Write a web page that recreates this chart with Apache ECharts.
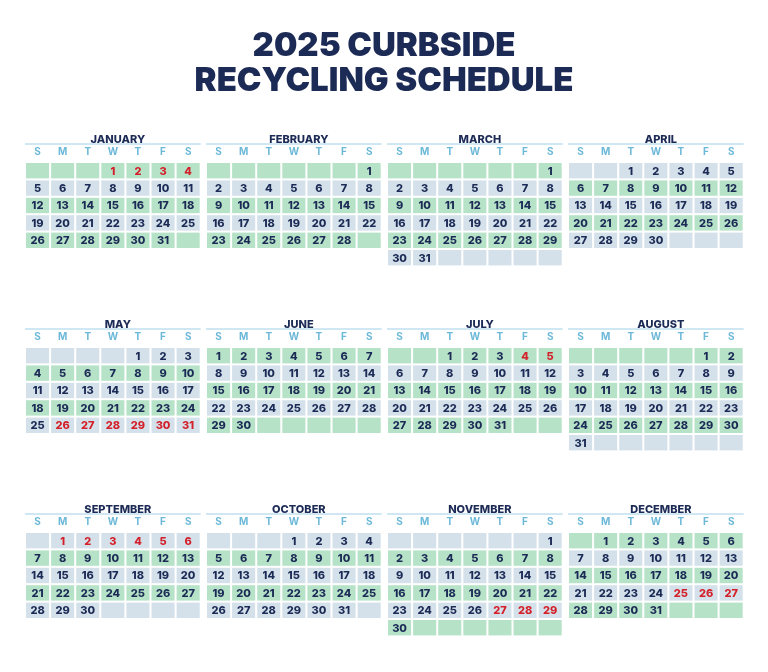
<!DOCTYPE html>
<html><head><meta charset="utf-8">
<script src="https://cdn.jsdelivr.net/npm/echarts@6/dist/echarts.min.js"></script>
<style>html,body{margin:0;padding:0;background:#fff}#c{width:768px;height:672px}</style>
</head><body><div id="c"></div>
<script>
const year = 2025;
const monthNames = ['JANUARY','FEBRUARY','MARCH','APRIL','MAY','JUNE','JULY','AUGUST','SEPTEMBER','OCTOBER','NOVEMBER','DECEMBER'];
const weekdayLabels = ['S','M','T','W','T','F','S'];
const holidayDays = [[1,2,3,4],[],[],[],[26,27,28,29,30,31],[],[4,5],[],[1,2,3,4,5,6],[],[27,28,29],[25,26,27]];
const titleLines = ['2025 CURBSIDE','RECYCLING SCHEDULE'];

const GREEN='#b6e3c7', BLUE='#d4e1ea', DARK='#1c2a56', RED='#d3202a', LBLUE='#6cb8d8';
const cellW=25.1, cellH=17.4;
const base = Date.UTC(2024,11,29);
const chart = echarts.init(document.getElementById('c'));
const grids=[],xAxes=[],yAxes=[],series=[],titles=[],graphics=[];
titles.push({text:titleLines.join('\n'),left:'center',top:24,textStyle:{fontFamily:'Inter',fontWeight:900,fontSize:33,lineHeight:35,color:DARK}});
for(let m=0;m<12;m++){
  const col=m%4, blk=Math.floor(m/4);
  const left=25+col*181, top=162+blk*185;
  const dow=new Date(Date.UTC(year,m,1)).getUTCDay();
  const days=new Date(Date.UTC(year,m+1,0)).getUTCDate();
  const nrows=Math.ceil((dow+days)/7);
  const data=[];
  for(let r=0;r<nrows;r++){
    const rowStart=Date.UTC(year,m,1)-dow*86400000+r*7*86400000;
    const wk=Math.round((rowStart-base)/(7*86400000));
    for(let c=0;c<7;c++){
      const d=r*7+c-dow+1;
      const valid=d>=1&&d<=days;
      data.push([c,r,valid?d:'',wk%2===0?GREEN:BLUE,valid&&holidayDays[m].includes(d)?RED:DARK]);
    }
  }
  grids.push({left:left,top:top,width:cellW*7,height:cellH*nrows});
  xAxes.push({gridIndex:m,type:'category',data:weekdayLabels.map((l,i)=>({value:i+'',})),position:'top',
    axisLine:{show:false},axisTick:{show:false},
    axisLabel:{margin:5,fontFamily:'Inter',fontWeight:700,fontSize:10,color:LBLUE,formatter:(v,i)=>weekdayLabels[i]}});
  yAxes.push({gridIndex:m,type:'category',data:Array.from({length:nrows},(_, i)=>i),inverse:true,show:false});
  series.push({type:'custom',xAxisIndex:m,yAxisIndex:m,data:data,
    renderItem:(params,api)=>{
      const p=api.coord([api.value(0),api.value(1)]);
      const s=api.size([1,1]);
      const dt=data[params.dataIndex];
      return {type:'group',children:[
        {type:'rect',shape:{x:p[0]-s[0]/2+1,y:p[1]-s[1]/2+1,width:s[0]-2,height:s[1]-2},style:{fill:dt[3]}},
        {type:'text',style:{text:String(dt[2]),x:p[0],y:p[1]+0.5,align:'center',verticalAlign:'middle',fill:dt[4],font:'800 11px Inter'}}
      ]};
    }});
  titles.push({text:monthNames[m],left:left+cellW*3.5,top:top-33,textAlign:'center',textStyle:{fontFamily:'Inter',fontWeight:800,fontSize:11,color:DARK}});
  graphics.push({type:'line',shape:{x1:left,y1:top-18,x2:left+cellW*7,y2:top-18},style:{stroke:'#9fd0e6',lineWidth:1}});
}
chart.setOption({animation:false,title:titles,grid:grids,xAxis:xAxes,yAxis:yAxes,series:series,graphic:graphics});
</script></body></html>
